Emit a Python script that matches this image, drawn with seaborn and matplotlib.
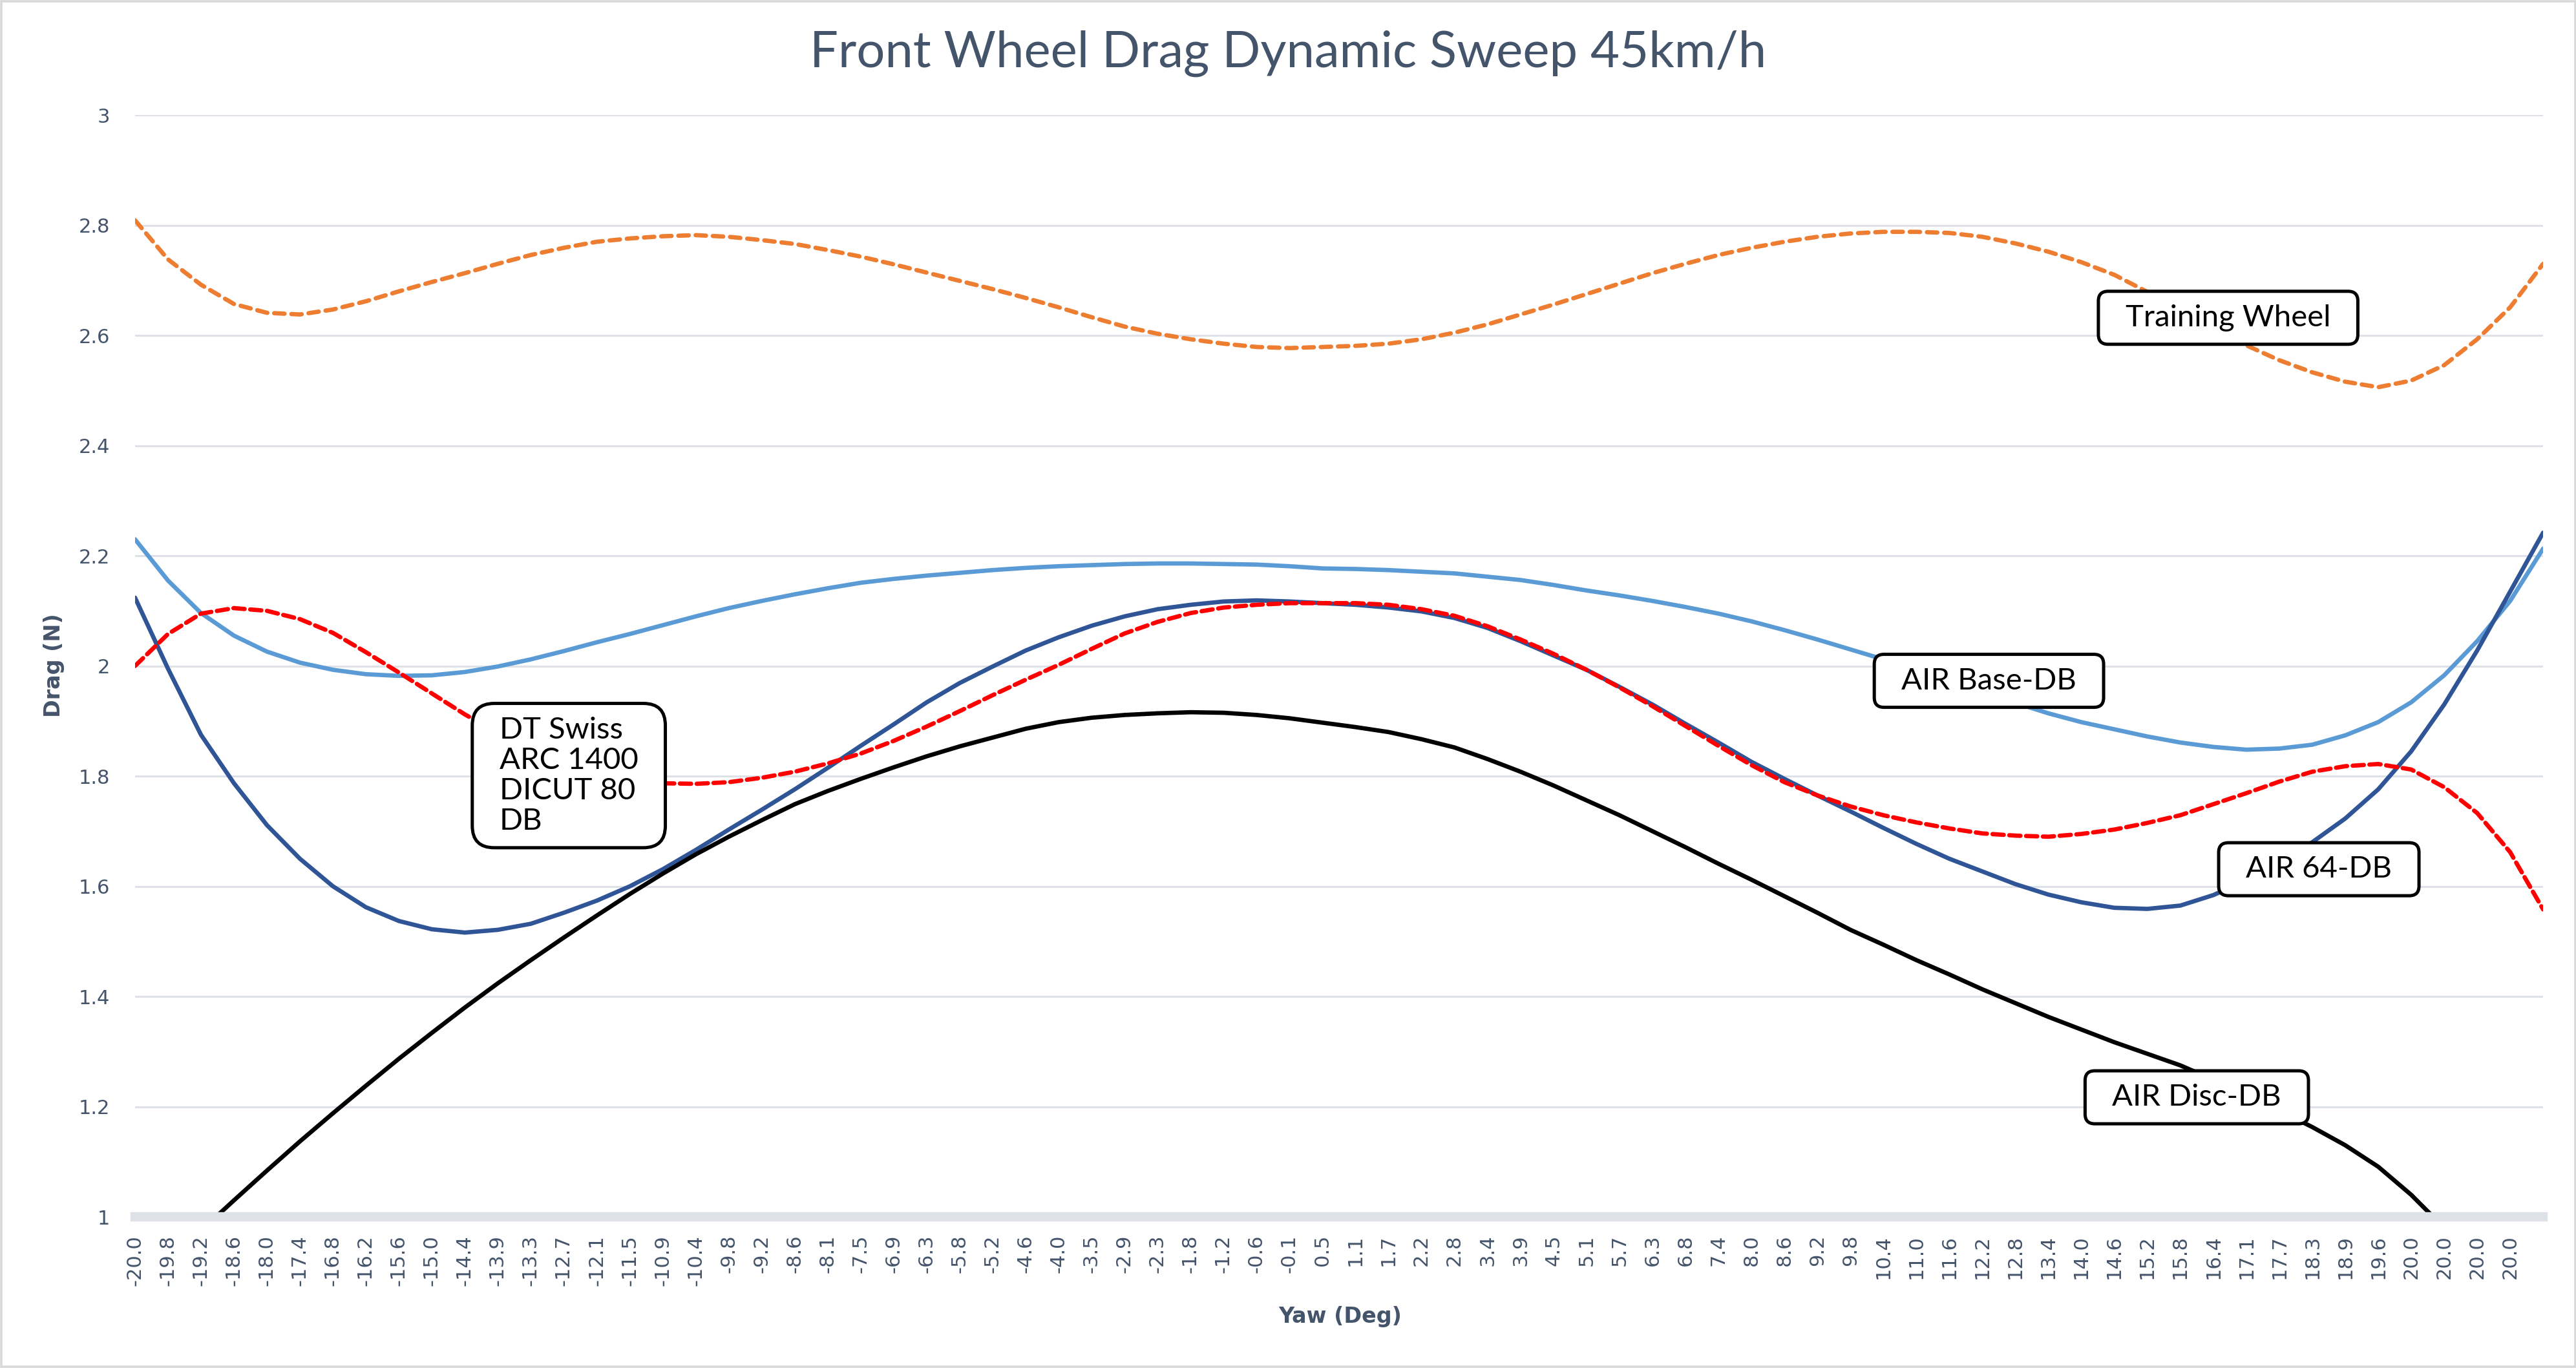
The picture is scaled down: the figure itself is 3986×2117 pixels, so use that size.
import numpy as np
import pandas as pd
import matplotlib
matplotlib.use("Agg")
import matplotlib.pyplot as plt
from matplotlib.patches import Rectangle, FancyBboxPatch
from matplotlib.transforms import IdentityTransform
import seaborn as sns

# category labels on the yaw axis (one per category slot)
yaw_labels = [
    "-20.0", "-19.8", "-19.2", "-18.6", "-18.0", "-17.4", "-16.8", "-16.2", "-15.6", "-15.0",
    "-14.4", "-13.9", "-13.3", "-12.7", "-12.1", "-11.5", "-10.9", "-10.4", "-9.8", "-9.2",
    "-8.6", "-8.1", "-7.5", "-6.9", "-6.3", "-5.8", "-5.2", "-4.6", "-4.0", "-3.5",
    "-2.9", "-2.3", "-1.8", "-1.2", "-0.6", "-0.1", "0.5", "1.1", "1.7", "2.2",
    "2.8", "3.4", "3.9", "4.5", "5.1", "5.7", "6.3", "6.8", "7.4", "8.0",
    "8.6", "9.2", "9.8", "10.4", "11.0", "11.6", "12.2", "12.8", "13.4", "14.0",
    "14.6", "15.2", "15.8", "16.4", "17.1", "17.7", "18.3", "18.9", "19.6", "20.0",
    "20.0", "20.0", "20.0",
]

# category slot of each value (the last slot has no label)
yaw_index = list(range(74))

training_wheel = [
    2.809, 2.738, 2.692, 2.657, 2.641, 2.638, 2.647, 2.662, 2.680, 2.697,
    2.713, 2.730, 2.746, 2.759, 2.770, 2.776, 2.780, 2.782, 2.779, 2.773,
    2.766, 2.755, 2.743, 2.729, 2.714, 2.699, 2.684, 2.668, 2.651, 2.633,
    2.616, 2.603, 2.593, 2.585, 2.579, 2.577, 2.579, 2.581, 2.585, 2.593,
    2.605, 2.620, 2.638, 2.656, 2.675, 2.694, 2.713, 2.730, 2.746, 2.759,
    2.770, 2.779, 2.785, 2.788, 2.788, 2.786, 2.779, 2.767, 2.752, 2.733,
    2.710, 2.679, 2.645, 2.612, 2.582, 2.555, 2.533, 2.516, 2.506, 2.518,
    2.546, 2.593, 2.651, 2.730,
]

air_base = [
    2.230, 2.155, 2.096, 2.055, 2.026, 2.006, 1.993, 1.985, 1.982, 1.983,
    1.989, 1.999, 2.012, 2.027, 2.043, 2.058, 2.074, 2.090, 2.105, 2.118,
    2.130, 2.141, 2.151, 2.158, 2.164, 2.169, 2.174, 2.178, 2.181, 2.183,
    2.185, 2.186, 2.186, 2.185, 2.184, 2.181, 2.177, 2.176, 2.174, 2.171,
    2.168, 2.162, 2.156, 2.147, 2.137, 2.128, 2.118, 2.107, 2.095, 2.081,
    2.065, 2.048, 2.030, 2.012, 1.993, 1.973, 1.953, 1.933, 1.914, 1.898,
    1.885, 1.872, 1.861, 1.853, 1.848, 1.850, 1.857, 1.874, 1.898, 1.934,
    1.983, 2.045, 2.118, 2.213,
]

air_64 = [
    2.124, 1.995, 1.875, 1.787, 1.711, 1.650, 1.600, 1.562, 1.537, 1.522,
    1.516, 1.521, 1.532, 1.552, 1.574, 1.600, 1.631, 1.666, 1.703, 1.739,
    1.776, 1.815, 1.855, 1.894, 1.934, 1.969, 1.999, 2.028, 2.052, 2.073,
    2.090, 2.103, 2.111, 2.117, 2.119, 2.117, 2.114, 2.111, 2.106, 2.099,
    2.087, 2.069, 2.045, 2.019, 1.993, 1.962, 1.930, 1.895, 1.861, 1.826,
    1.795, 1.765, 1.736, 1.706, 1.677, 1.650, 1.627, 1.604, 1.585, 1.571,
    1.561, 1.559, 1.565, 1.584, 1.611, 1.644, 1.680, 1.723, 1.776, 1.845,
    1.930, 2.028, 2.135, 2.242,
]

dt_swiss = [
    2.000, 2.058, 2.095, 2.105, 2.100, 2.085, 2.060, 2.025, 1.988, 1.950,
    1.912, 1.878, 1.850, 1.825, 1.805, 1.793, 1.787, 1.786, 1.789, 1.797,
    1.808, 1.823, 1.841, 1.864, 1.890, 1.918, 1.947, 1.975, 2.002, 2.031,
    2.059, 2.080, 2.096, 2.106, 2.111, 2.114, 2.114, 2.114, 2.111, 2.103,
    2.091, 2.072, 2.048, 2.022, 1.993, 1.961, 1.927, 1.891, 1.855, 1.820,
    1.789, 1.765, 1.745, 1.729, 1.716, 1.705, 1.696, 1.692, 1.690, 1.695,
    1.703, 1.715, 1.729, 1.749, 1.769, 1.790, 1.808, 1.818, 1.822, 1.812,
    1.780, 1.733, 1.662, 1.558,
]

air_disc = [
    0.860, 0.918, 0.975, 1.030, 1.084, 1.137, 1.188, 1.238, 1.287, 1.334,
    1.380, 1.424, 1.466, 1.507, 1.547, 1.586, 1.623, 1.658, 1.690, 1.720,
    1.749, 1.773, 1.795, 1.816, 1.836, 1.854, 1.870, 1.886, 1.898, 1.906,
    1.911, 1.914, 1.916, 1.915, 1.911, 1.905, 1.897, 1.889, 1.880, 1.867,
    1.852, 1.831, 1.808, 1.783, 1.756, 1.729, 1.700, 1.671, 1.641, 1.612,
    1.582, 1.552, 1.521, 1.494, 1.466, 1.440, 1.413, 1.388, 1.363, 1.340,
    1.317, 1.296, 1.275, 1.249, 1.222, 1.193, 1.163, 1.130, 1.091, 1.040,
    0.980, 0.910, 0.840, 0.760,
]

drag_ticks = [1.0, 1.2, 1.4, 1.6, 1.8, 2.0, 2.2, 2.4, 2.6, 2.8, 3.0]

SLATE = "#44546A"
GRID = "#DEE2E8"

sns.set_style("white")
plt.rcParams["font.family"] = ["DejaVu Sans"]

fig = plt.figure(figsize=(3987 / 200, 2117 / 200), dpi=200)
ax = fig.add_axes([0.0524, 0.1105, 0.9346, 0.8054])

lines = [
    (training_wheel, "#ED7D31", (2.4, 1.6)),
    (air_base, "#5B9BD5", None),
    (air_64, "#2F5597", None),
    (dt_swiss, "#FF0000", (2.6, 1.3)),
    (air_disc, "#000000", None),
]
for vals, color, dash in lines:
    df = pd.DataFrame({"yaw": yaw_index, "drag": vals})
    sns.lineplot(data=df, x="yaw", y="drag", ax=ax, color=color, lw=2.4, legend=False)
    ln = ax.lines[-1]
    ln.set_solid_joinstyle("round")
    if dash is not None:
        ln.set_dashes(dash)
        ln.set_dash_capstyle("round")

ax.set_xlim(0, 73)
ax.set_ylim(1, 3)
ax.set_xticks(range(len(yaw_labels)))
ax.set_xticklabels(yaw_labels, rotation=90, fontsize=11, color=SLATE)
ax.set_yticks(drag_ticks)
ax.set_yticklabels([f"{t:g}" for t in drag_ticks], fontsize=11, color=SLATE)
ax.tick_params(axis="x", length=0, pad=10)
ax.tick_params(axis="y", length=0, pad=14)
ax.yaxis.grid(True, color=GRID, lw=1.1)
ax.xaxis.grid(False)
ax.set_axisbelow(True)
for side in ["top", "right", "left"]:
    ax.spines[side].set_visible(False)
ax.spines["bottom"].set_color(GRID)
ax.spines["bottom"].set_linewidth(5.2)
ax.set_xlabel("")
ax.set_ylabel("")

# callout labels (rounded white boxes)
box_font = ["Lato", "DejaVu Sans"]
callouts = [
    ("Training Wheel", 63.45, 2.632, 15),
    ("AIR Base-DB", 56.2, 1.973, 15),
    ("AIR 64-DB", 66.2, 1.631, 15),
    ("AIR Disc-DB", 62.5, 1.217, 15),
    ("DT Swiss\nARC 1400\nDICUT 80\nDB", 13.15, 1.801, 34),
]
texts = []
for text, x, y, rr in callouts:
    t = ax.text(x, y, text, ha="center", va="center", multialignment="left",
                fontsize=17, family=box_font, color="black", linespacing=1.15, zorder=6)
    texts.append((t, rr))

fig.text(0.5, 0.951, "Front Wheel Drag Dynamic Sweep 45km/h", ha="center", va="baseline",
         fontsize=28, family=["Lato", "DejaVu Sans"], color=SLATE)
fig.text(0.52, 0.033, "Yaw (Deg)", ha="center", va="baseline", fontsize=12,
         fontweight="bold", color=SLATE)
fig.text(0.021, 0.5135, "Drag (N)", ha="center", va="center", rotation=90, fontsize=12,
         fontweight="bold", color=SLATE)

fig.patches.append(Rectangle((0.0005, 0.001), 0.999, 0.998, transform=fig.transFigure,
                             fill=False, ec="#D9D9D9", lw=1.3))

fig.canvas.draw()
renderer = fig.canvas.get_renderer()
PADX, PADY = 42, 20
for t, rr in texts:
    bb = t.get_window_extent(renderer)
    box = FancyBboxPatch((bb.x0 - PADX, bb.y0 - PADY), bb.width + 2 * PADX, bb.height + 2 * PADY,
                         boxstyle=f"round,pad=0,rounding_size={rr}", transform=IdentityTransform(),
                         fc="white", ec="black", lw=1.8, zorder=5, clip_on=False)
    ax.add_artist(box)

fig.savefig("out.png", dpi=200, facecolor="white")
